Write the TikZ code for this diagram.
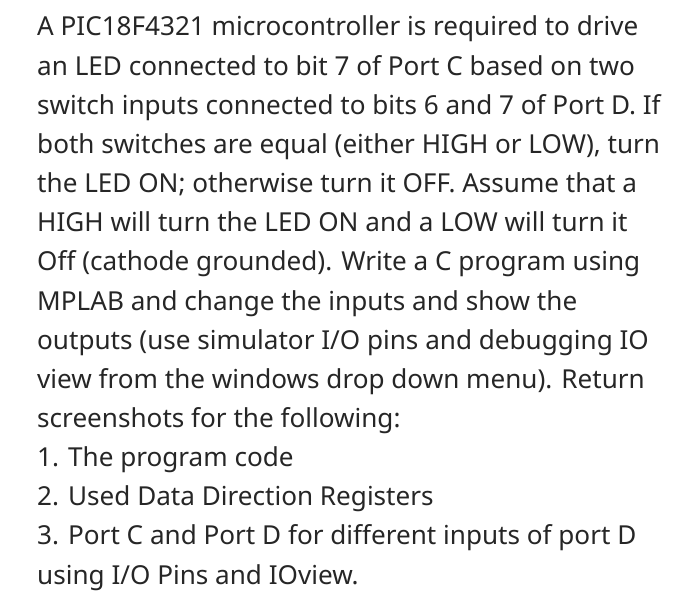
\documentclass[tikz,border=0pt]{standalone}
\usepackage{fontspec}
\setmainfont{Noto Sans}
\begin{document}
\begin{tikzpicture}[x=1pt,y=-1pt,ln/.style={anchor=base west,inner sep=0pt,font=\fontsize{26.1}{30}\selectfont,text=black!85}]
\useasboundingbox[fill=white] (0,0) rectangle (700,599);
\foreach \t [count=\i] in {
A PIC18F4321 microcontroller is required to drive,
an LED connected to bit 7 of Port C based on two,
switch inputs connected to bits 6 and 7 of Port D. If,
both switches are equal (either HIGH or LOW){,} turn,
the LED ON; otherwise turn it OFF. Assume that a,
HIGH will turn the LED ON and a LOW will turn it,
Off (cathode grounded). Write a C program using,
MPLAB and change the inputs and show the,
outputs (use simulator I/O pins and debugging IO,
view from the windows drop down menu). Return,
screenshots for the following:,
1. The program code,
2. Used Data Direction Registers,
3. Port C and Port D for different inputs of port D,
using I/O Pins and IOview.}
  \node[ln] (l\i) at (37,{36+(\i-1)*39.15}) {\t};
\end{tikzpicture}
\end{document}
